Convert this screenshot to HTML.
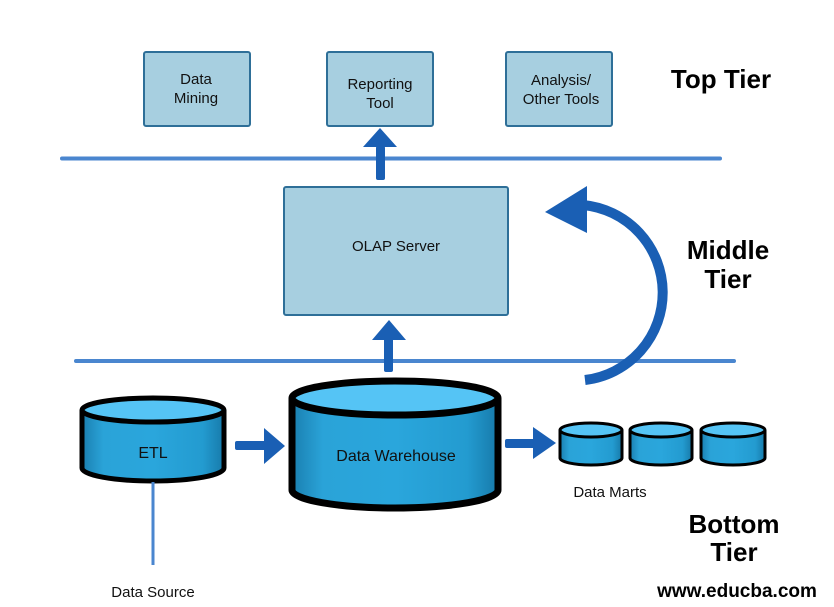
<!DOCTYPE html>
<html><head><meta charset="utf-8"><style>
html,body{margin:0;padding:0;background:#fff;}
svg{display:block;}
text{font-family:"Liberation Sans",sans-serif;}
</style></head><body>
<svg width="834" height="607" viewBox="0 0 834 607" xmlns="http://www.w3.org/2000/svg">
<defs>
<linearGradient id="cyl" x1="0" x2="1" y1="0" y2="0">
<stop offset="0" stop-color="#1a7fb0"/><stop offset="0.15" stop-color="#2aa3d8"/>
<stop offset="0.5" stop-color="#2aa6dc"/><stop offset="0.85" stop-color="#239bd0"/><stop offset="1" stop-color="#177aaa"/>
</linearGradient>
</defs>
<!-- tier lines -->
<line x1="62" y1="158.5" x2="720" y2="158.5" stroke="#4a86cf" stroke-width="4" stroke-linecap="round"/>
<line x1="76" y1="361" x2="734" y2="361" stroke="#4a86cf" stroke-width="4" stroke-linecap="round"/>
<!-- top boxes -->
<g fill="#a7cfe0" stroke="#2e6f98" stroke-width="2">
<rect x="144" y="52" width="106" height="74" rx="2"/>
<rect x="327" y="52" width="106" height="74" rx="2"/>
<rect x="506" y="52" width="106" height="74" rx="2"/>
<rect x="284" y="187" width="224" height="128" rx="2"/>
</g>
<g font-size="15" fill="#111" text-anchor="middle">
<text x="196" y="84">Data</text><text x="196" y="103">Mining</text>
<text x="380" y="89">Reporting</text><text x="380" y="108">Tool</text>
<text x="561" y="85">Analysis/</text><text x="561" y="104">Other Tools</text>
<text x="396" y="251">OLAP Server</text>
</g>
<!-- up arrows -->
<g fill="#1a5fb4">
<rect x="376" y="146" width="9" height="34" rx="2"/>
<polygon points="363,147 380,128 397,147"/>
<rect x="384" y="338" width="9" height="34" rx="2"/>
<polygon points="372,340 389,320 406,340"/>
</g>
<!-- curved arrow -->
<path d="M585,380 A88,88 0 0 0 583,205" fill="none" stroke="#1a5fb4" stroke-width="10"/>
<polygon points="545,212 587,186 587,233" fill="#1a5fb4"/>
<!-- tier labels -->
<g font-weight="bold" fill="#000" text-anchor="middle" font-size="26">
<text x="721" y="88">Top Tier</text>
<text x="728" y="259">Middle</text><text x="728" y="288">Tier</text>
<text x="734" y="533">Bottom</text><text x="734" y="561">Tier</text>
</g>
<text x="737" y="597" font-weight="bold" font-size="19" text-anchor="middle" fill="#000">www.educba.com</text>
<!-- ETL cylinder -->
<path d="M82,410 L82,468 A71,13 0 0 0 224,468 L224,410" fill="url(#cyl)" stroke="#000" stroke-width="5"/>
<ellipse cx="153" cy="410" rx="71" ry="12" fill="#55c4f5" stroke="#000" stroke-width="5"/>
<text x="153" y="458" font-size="16" text-anchor="middle" fill="#111">ETL</text>
<line x1="153" y1="482" x2="153" y2="565" stroke="#4a86cf" stroke-width="3"/>
<text x="153" y="597" font-size="15" text-anchor="middle" fill="#111">Data Source</text>
<!-- Data warehouse -->
<path d="M292,398 L292,490 A103,18 0 0 0 498,490 L498,398" fill="url(#cyl)" stroke="#000" stroke-width="7"/>
<ellipse cx="395" cy="398" rx="103" ry="17" fill="#55c4f5" stroke="#000" stroke-width="7"/>
<text x="396" y="461" font-size="16" text-anchor="middle" fill="#111">Data Warehouse</text>
<!-- arrows right -->
<g fill="#1a5fb4">
<rect x="235" y="441" width="32" height="9" rx="2"/>
<polygon points="264,428 285,446 264,464"/>
<rect x="505" y="439" width="32" height="9" rx="2"/>
<polygon points="533,427 556,443 533,459"/>
</g>
<!-- data marts -->
<g stroke="#000" stroke-width="3">
<path d="M560,430 L560,458 A31,7 0 0 0 622,458 L622,430" fill="url(#cyl)"/>
<ellipse cx="591" cy="430" rx="31" ry="7" fill="#55c4f5"/>
<path d="M630,430 L630,458 A31,7 0 0 0 692,458 L692,430" fill="url(#cyl)"/>
<ellipse cx="661" cy="430" rx="31" ry="7" fill="#55c4f5"/>
<path d="M701,430 L701,458 A32,7 0 0 0 765,458 L765,430" fill="url(#cyl)"/>
<ellipse cx="733" cy="430" rx="32" ry="7" fill="#55c4f5"/>
</g>
<text x="610" y="497" font-size="15" text-anchor="middle" fill="#111">Data Marts</text>
</svg>
</body></html>
